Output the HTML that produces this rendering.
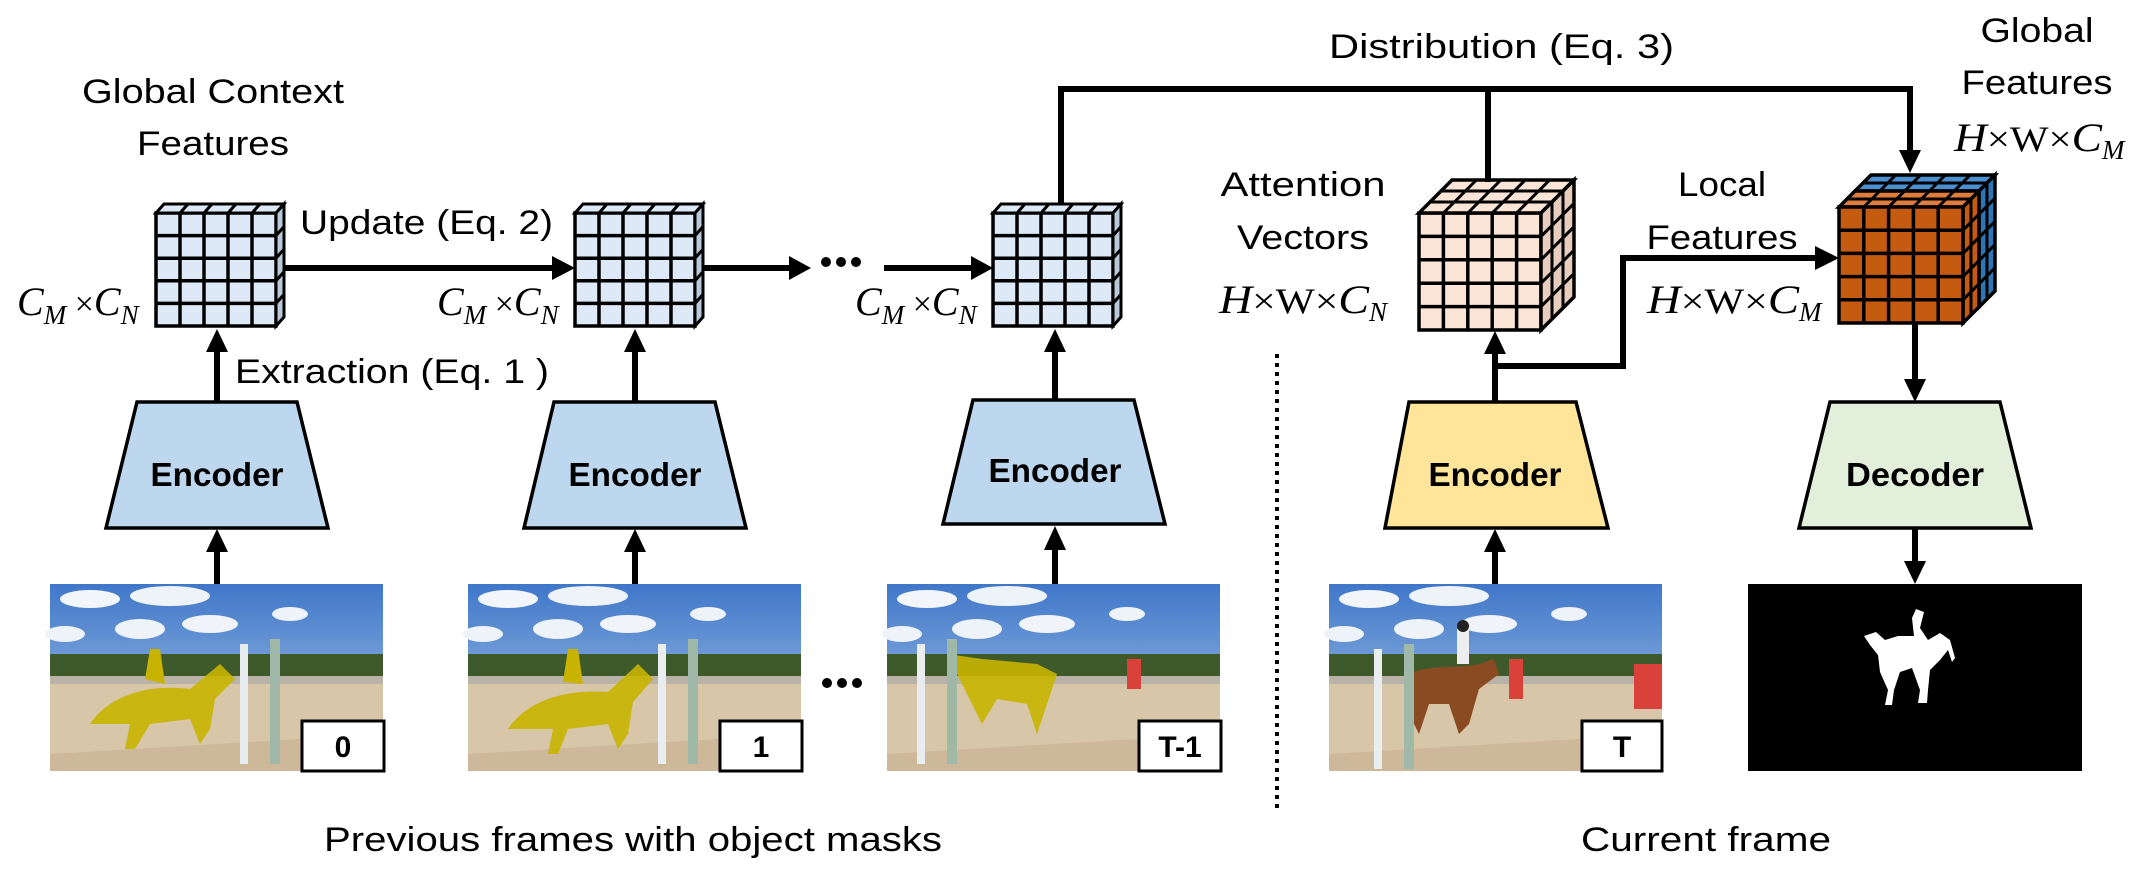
<!DOCTYPE html>
<html><head><meta charset="utf-8"><style>
html,body{margin:0;padding:0;background:#fff;}
svg{display:block;}
.t{font-family:"Liberation Sans",sans-serif;fill:#000;}
.m{font-family:"Liberation Serif",serif;font-style:italic;fill:#000;}
.b{font-family:"Liberation Sans",sans-serif;font-weight:bold;fill:#000;}
</style></head><body>
<svg width="2140" height="874" viewBox="0 0 2140 874" xmlns="http://www.w3.org/2000/svg">
<defs>
<g id="flat">
  <rect x="0" y="0" width="120" height="113" fill="#dde9f7" stroke="#000" stroke-width="3.5"/>
  <g stroke="#000" stroke-width="3.5">
   <line x1="24" y1="0" x2="24" y2="113"/><line x1="48" y1="0" x2="48" y2="113"/><line x1="72" y1="0" x2="72" y2="113"/><line x1="96" y1="0" x2="96" y2="113"/>
   <line x1="0" y1="22.6" x2="120" y2="22.6"/><line x1="0" y1="45.2" x2="120" y2="45.2"/><line x1="0" y1="67.8" x2="120" y2="67.8"/><line x1="0" y1="90.4" x2="120" y2="90.4"/>
  </g>
  <polygon points="0,0 120,0 128,-9 8,-9" fill="#dde9f7" stroke="#000" stroke-width="3"/>
  <polygon points="120,0 128,-9 128,104 120,113" fill="#b9c9d9" stroke="#000" stroke-width="3"/>
  <g stroke="#000" stroke-width="3">
   <line x1="24" y1="0" x2="32" y2="-9"/><line x1="48" y1="0" x2="56" y2="-9"/><line x1="72" y1="0" x2="80" y2="-9"/><line x1="96" y1="0" x2="104" y2="-9"/>
   <line x1="120" y1="22.6" x2="128" y2="13.6"/><line x1="120" y1="45.2" x2="128" y2="36.2"/><line x1="120" y1="67.8" x2="128" y2="58.8"/><line x1="120" y1="90.4" x2="128" y2="81.4"/>
  </g>
</g>
<linearGradient id="sky" x1="0" y1="0" x2="0" y2="1"><stop offset="0" stop-color="#3f77c9"/><stop offset="1" stop-color="#b8d0ea"/></linearGradient>
<g id="scene">
  <rect x="0" y="0" width="333" height="187" fill="url(#sky)"/>
  <ellipse cx="40" cy="15" rx="30" ry="9" fill="#f2f5fa"/><ellipse cx="120" cy="12" rx="40" ry="10" fill="#eef3f9"/>
  <ellipse cx="90" cy="45" rx="25" ry="10" fill="#eef3f9"/><ellipse cx="160" cy="40" rx="28" ry="9" fill="#f0f4fa"/>
  <ellipse cx="15" cy="50" rx="20" ry="8" fill="#eef3f9"/><ellipse cx="240" cy="30" rx="18" ry="7" fill="#eef3f9"/>
  <rect x="0" y="70" width="333" height="30" fill="#3e5a2a"/>
  <rect x="0" y="92" width="333" height="10" fill="#b9b2a6"/>
  <rect x="0" y="100" width="333" height="87" fill="#d8c6a8"/>
  <polygon points="0,187 333,187 333,150 0,170" fill="#cdb899"/>
</g>
</defs>

<text class="t" x="213" y="103" font-size="34" text-anchor="middle" textLength="262" lengthAdjust="spacingAndGlyphs">Global Context</text>
<text class="t" x="213" y="155" font-size="34" text-anchor="middle" textLength="152" lengthAdjust="spacingAndGlyphs">Features</text>
<text class="t" x="300" y="234" font-size="34" textLength="253" lengthAdjust="spacingAndGlyphs">Update (Eq. 2)</text>
<text class="t" x="235" y="383" font-size="34" textLength="314" lengthAdjust="spacingAndGlyphs">Extraction (Eq. 1 )</text>
<text class="t" x="1329" y="58" font-size="34" textLength="345" lengthAdjust="spacingAndGlyphs">Distribution  (Eq. 3)</text>
<text class="t" x="2037" y="42" font-size="34" text-anchor="middle" textLength="113" lengthAdjust="spacingAndGlyphs">Global</text>
<text class="t" x="2037" y="94" font-size="34" text-anchor="middle" textLength="151" lengthAdjust="spacingAndGlyphs">Features</text>
<text class="t" x="1303" y="196" font-size="34" text-anchor="middle" textLength="165" lengthAdjust="spacingAndGlyphs">Attention</text>
<text class="t" x="1303" y="249" font-size="34" text-anchor="middle" textLength="132" lengthAdjust="spacingAndGlyphs">Vectors</text>
<text class="t" x="1722" y="196" font-size="34" text-anchor="middle" textLength="88" lengthAdjust="spacingAndGlyphs">Local</text>
<text class="t" x="1722" y="249" font-size="34" text-anchor="middle" textLength="151" lengthAdjust="spacingAndGlyphs">Features</text>

<g class="m">
 <text x="17" y="315" font-size="40">C<tspan font-size="27" dy="9">M</tspan><tspan font-style="normal" font-size="34" dy="-9"> ×</tspan>C<tspan font-size="27" dy="9">N</tspan></text>
 <text x="437" y="315" font-size="40">C<tspan font-size="27" dy="9">M</tspan><tspan font-style="normal" font-size="34" dy="-9"> ×</tspan>C<tspan font-size="27" dy="9">N</tspan></text>
 <text x="855" y="315" font-size="40">C<tspan font-size="27" dy="9">M</tspan><tspan font-style="normal" font-size="34" dy="-9"> ×</tspan>C<tspan font-size="27" dy="9">N</tspan></text>
 <text x="1219" y="313" font-size="40" textLength="150" lengthAdjust="spacingAndGlyphs">H<tspan font-style="normal" font-size="36">×W×</tspan>C</text>
 <text x="1369" y="321" font-size="27">N</text>
 <text x="1647" y="313" font-size="40" textLength="152" lengthAdjust="spacingAndGlyphs">H<tspan font-style="normal" font-size="36">×W×</tspan>C</text>
 <text x="1799" y="321" font-size="27">M</text>
 <text x="1954" y="151" font-size="40" textLength="148" lengthAdjust="spacingAndGlyphs">H<tspan font-style="normal" font-size="36">×W×</tspan>C</text>
 <text x="2102" y="159" font-size="27">M</text>
</g>

<use href="#flat" x="156" y="213"/>
<use href="#flat" x="575" y="213"/>
<use href="#flat" x="993" y="213"/>

<g stroke="#000" stroke-width="3.5">
 <rect x="1419" y="213" width="122" height="117" fill="#fbe5d6"/>
 <polygon points="1419,213 1541,213 1574,180 1452,180" fill="#fbe5d6"/>
 <polygon points="1541,213 1574,180 1574,297 1541,330" fill="#e6cdbd"/>
 <line x1="1443.4" y1="213" x2="1443.4" y2="330"/><line x1="1467.8" y1="213" x2="1467.8" y2="330"/><line x1="1492.2" y1="213" x2="1492.2" y2="330"/><line x1="1516.6" y1="213" x2="1516.6" y2="330"/>
 <line x1="1419" y1="236.4" x2="1541" y2="236.4"/><line x1="1419" y1="259.8" x2="1541" y2="259.8"/><line x1="1419" y1="283.2" x2="1541" y2="283.2"/><line x1="1419" y1="306.6" x2="1541" y2="306.6"/>
 <g stroke-width="3">
 <line x1="1443.4" y1="213" x2="1476.4" y2="180"/><line x1="1467.8" y1="213" x2="1500.8" y2="180"/><line x1="1492.2" y1="213" x2="1525.2" y2="180"/><line x1="1516.6" y1="213" x2="1549.6" y2="180"/>
 <line x1="1430" y1="202" x2="1552" y2="202"/><line x1="1441" y1="191" x2="1563" y2="191"/>
 <line x1="1552" y1="202" x2="1552" y2="319"/><line x1="1563" y1="191" x2="1563" y2="308"/>
 <line x1="1541" y1="236.4" x2="1574" y2="203.4"/><line x1="1541" y1="259.8" x2="1574" y2="226.8"/><line x1="1541" y1="283.2" x2="1574" y2="250.2"/><line x1="1541" y1="306.6" x2="1574" y2="273.6"/>
 </g>
</g>

<g stroke="#000" stroke-width="3.5">
 <polygon points="1855,191 1979,191 1995,175 1871,175" fill="#4a8fd0"/>
 <polygon points="1839,207 1963,207 1979,191 1855,191" fill="#e07d3c"/>
 <polygon points="1979,191 1995,175 1995,291 1979,307" fill="#2e75b6"/>
 <polygon points="1963,207 1979,191 1979,307 1963,323" fill="#c55a11"/>
 <rect x="1839" y="207" width="124" height="116" fill="#c55a11"/>
 <line x1="1863.8" y1="207" x2="1863.8" y2="323"/><line x1="1888.6" y1="207" x2="1888.6" y2="323"/><line x1="1913.4" y1="207" x2="1913.4" y2="323"/><line x1="1938.2" y1="207" x2="1938.2" y2="323"/>
 <line x1="1839" y1="230.2" x2="1963" y2="230.2"/><line x1="1839" y1="253.4" x2="1963" y2="253.4"/><line x1="1839" y1="276.6" x2="1963" y2="276.6"/><line x1="1839" y1="299.8" x2="1963" y2="299.8"/>
 <g stroke-width="3">
 <line x1="1863.8" y1="207" x2="1895.8" y2="175"/><line x1="1888.6" y1="207" x2="1920.6" y2="175"/><line x1="1913.4" y1="207" x2="1945.4" y2="175"/><line x1="1938.2" y1="207" x2="1970.2" y2="175"/>
 <line x1="1847" y1="199" x2="1971" y2="199"/><line x1="1863" y1="183" x2="1987" y2="183"/>
 <line x1="1971" y1="199" x2="1971" y2="315"/><line x1="1987" y1="183" x2="1987" y2="299"/>
 <line x1="1963" y1="230.2" x2="1995" y2="198.2"/><line x1="1963" y1="253.4" x2="1995" y2="221.4"/><line x1="1963" y1="276.6" x2="1995" y2="244.6"/><line x1="1963" y1="299.8" x2="1995" y2="267.8"/>
 </g>
</g>

<g stroke="#000" stroke-width="6" fill="none">
 <line x1="283" y1="268" x2="554" y2="268"/>
 <line x1="703" y1="268" x2="792" y2="268"/>
 <line x1="884" y1="268" x2="974" y2="268"/>
 <line x1="217" y1="402" x2="217" y2="350"/><line x1="635" y1="402" x2="635" y2="350"/><line x1="1055" y1="400" x2="1055" y2="350"/>
 <line x1="217" y1="584" x2="217" y2="550"/><line x1="635" y1="584" x2="635" y2="550"/><line x1="1055" y1="584" x2="1055" y2="548"/><line x1="1495" y1="584" x2="1495" y2="550"/>
 <polyline points="1061,205 1061,89 1910,89 1910,152"/>
 <line x1="1488" y1="89" x2="1488" y2="182"/>
 <line x1="1495" y1="402" x2="1495" y2="352"/>
 <polyline points="1495,366 1623,366 1623,258 1817,258"/>
 <line x1="1915" y1="323" x2="1915" y2="381"/>
 <line x1="1915" y1="528" x2="1915" y2="563"/>
</g>
<g fill="#000">
 <polygon points="552,256 575,268 552,280"/>
 <polygon points="789,256 811,268 789,280"/>
 <polygon points="971,256 993,268 971,280"/>
 <polygon points="206,352 217,329 228,352"/><polygon points="624,352 635,329 646,352"/><polygon points="1044,352 1055,329 1066,352"/>
 <polygon points="206,552 217,529 228,552"/><polygon points="624,552 635,529 646,552"/><polygon points="1044,550 1055,526 1066,550"/><polygon points="1484,552 1495,529 1506,552"/>
 <polygon points="1484,354 1495,331 1506,354"/>
 <polygon points="1815,246 1839,258 1815,270"/>
 <polygon points="1899,150 1910,173 1921,150"/>
 <polygon points="1904,379 1915,402 1926,379"/>
 <polygon points="1904,561 1915,584 1926,561"/>
 <circle cx="826" cy="262" r="5"/><circle cx="841" cy="262" r="5"/><circle cx="856" cy="262" r="5"/>
 <circle cx="827" cy="683" r="5"/><circle cx="842" cy="683" r="5"/><circle cx="857" cy="683" r="5"/>
</g>
<line x1="1277" y1="354" x2="1277" y2="811" stroke="#000" stroke-width="4" stroke-dasharray="4,5"/>

<g stroke="#000" stroke-width="3.5">
 <polygon points="137,402 297,402 328,528 106,528" fill="#bdd7ee"/>
 <polygon points="554,402 715,402 746,528 524,528" fill="#bdd7ee"/>
 <polygon points="973,400 1134,400 1165,524 943,524" fill="#bdd7ee"/>
 <polygon points="1409,402 1576,402 1608,528 1385,528" fill="#fee599"/>
 <polygon points="1830,402 2000,402 2031,528 1799,528" fill="#e2efda"/>
</g>
<g class="b" font-size="33" text-anchor="middle">
 <text x="217" y="486" textLength="133" lengthAdjust="spacingAndGlyphs">Encoder</text>
 <text x="635" y="486" textLength="133" lengthAdjust="spacingAndGlyphs">Encoder</text>
 <text x="1055" y="482" textLength="133" lengthAdjust="spacingAndGlyphs">Encoder</text>
 <text x="1495" y="486" textLength="133" lengthAdjust="spacingAndGlyphs">Encoder</text>
 <text x="1915" y="486" textLength="138" lengthAdjust="spacingAndGlyphs">Decoder</text>
</g>

<g transform="translate(50,584)"><use href="#scene"/>
 <path d="M40,140 C60,110 100,100 140,105 L170,80 L185,95 L165,115 L160,145 L150,160 L140,135 L100,140 L85,165 L75,165 L80,140 Z" fill="#c8b400" opacity="0.9"/>
 <path d="M95,95 L100,65 L110,65 L115,100 Z" fill="#c8b400"/>
 <rect x="190" y="60" width="8" height="120" fill="#e8eef0"/><rect x="220" y="55" width="10" height="125" fill="#9fb8a8"/>
</g>
<g transform="translate(468,584)"><use href="#scene"/>
 <path d="M40,145 C60,115 100,105 140,108 L170,80 L185,95 L165,118 L160,150 L150,165 L140,140 L100,145 L90,170 L80,170 L85,145 Z" fill="#c8b400" opacity="0.9"/>
 <path d="M95,98 L100,65 L110,65 L115,100 Z" fill="#c8b400"/>
 <rect x="190" y="60" width="8" height="120" fill="#e8eef0"/><rect x="220" y="55" width="10" height="125" fill="#9fb8a8"/>
</g>
<g transform="translate(887,584)"><use href="#scene"/>
 <path d="M60,70 L95,75 L150,80 L170,90 L160,120 L150,150 L140,120 L110,115 L95,140 L85,120 Z" fill="#c8b400" opacity="0.9"/>
 <rect x="30" y="60" width="8" height="120" fill="#e8eef0"/><rect x="60" y="55" width="10" height="125" fill="#9fb8a8"/>
 <rect x="240" y="75" width="14" height="30" fill="#d9413a"/>
</g>
<g transform="translate(1329,584)"><use href="#scene"/>
 <path d="M80,90 C100,80 130,85 150,80 L165,75 L170,90 L150,105 L140,140 L130,150 L120,120 L100,120 L90,150 L85,140 Z" fill="#8a4a22"/>
 <rect x="128" y="45" width="12" height="35" fill="#eee"/><circle cx="134" cy="42" r="6" fill="#222"/>
 <rect x="45" y="65" width="8" height="120" fill="#e8eef0"/><rect x="75" y="60" width="10" height="125" fill="#9fb8a8"/>
 <rect x="180" y="75" width="14" height="40" fill="#d9413a"/><rect x="305" y="80" width="28" height="45" fill="#d9413a"/>
</g>
<rect x="1748" y="584" width="334" height="187" fill="#000"/>
<path d="M1864,636 L1870,645 L1878,655 L1880,672 L1888,690 L1885,705 L1892,705 L1894,690 L1900,672 L1912,668 L1920,690 L1918,703 L1927,703 L1928,690 L1930,670 L1940,660 L1948,650 L1952,662 L1955,658 L1950,640 L1940,633 L1928,640 L1920,628 L1924,612 L1916,609 L1912,618 L1914,636 L1898,636 L1885,640 L1876,632 Z" fill="#fff"/>

<g stroke="#000" stroke-width="3" fill="#fff">
 <rect x="302" y="721" width="82" height="50"/>
 <rect x="720" y="721" width="82" height="50"/>
 <rect x="1139" y="721" width="82" height="50"/>
 <rect x="1582" y="721" width="80" height="50"/>
</g>
<g class="b" font-size="30" text-anchor="middle">
 <text x="343" y="757">0</text><text x="761" y="757">1</text><text x="1180" y="757">T-1</text><text x="1622" y="757">T</text>
</g>

<text class="t" x="633" y="851" font-size="34" text-anchor="middle" textLength="618" lengthAdjust="spacingAndGlyphs">Previous frames with object masks</text>
<text class="t" x="1706" y="851" font-size="34" text-anchor="middle" textLength="250" lengthAdjust="spacingAndGlyphs">Current frame</text>
</svg>
</body></html>
